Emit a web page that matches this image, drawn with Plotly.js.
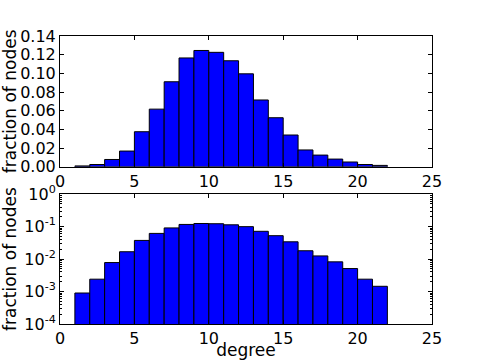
<!DOCTYPE html>
<html><head><meta charset="utf-8">
<script src="https://cdn.plot.ly/plotly-3.0.1.min.js"></script>
<style>html,body{margin:0;padding:0;background:#fff}#chart{width:480px;height:360px}</style>
</head><body><div id="chart"></div>
<script>
// Histogram bins (left edges, width 1) and fraction of nodes per bin
var binStart = [1,2,3,4,5,6,7,8,9,10,11,12,13,14,15,16,17,18,19,20,21];
var binWidth = 1;
var fraction = [0.0009,0.0024,0.0078,0.0168,0.0375,0.0617,0.091,0.1165,0.1245,0.1225,0.1135,
                0.0995,0.0715,0.0525,0.034,0.018,0.0125,0.0082,0.0051,0.0024,0.00145];
var logTickVals = [1e-4,1e-3,1e-2,1e-1,1];
var logTickText = ['10<sup>-4</sup>','10<sup>-3</sup>','10<sup>-2</sup>','10<sup>-1</sup>','10<sup>0</sup>'];
var xTitle = 'degree';
var yTitle = 'fraction of nodes';

var font = {family:'DejaVu Sans', size:16, color:'#000'};
var titleFont = {family:'DejaVu Sans', size:17, color:'#000'};
var widths = binStart.map(function(){return binWidth;});
function barTrace(xa, ya){
  return {type:'bar', x:binStart, y:fraction, width:widths, offset:0,
    xaxis:xa, yaxis:ya, marker:{color:'#0000ff', line:{color:'#000', width:1}},
    showlegend:false, hoverinfo:'skip'};
}
var axBase = {showline:true, linecolor:'#000', linewidth:1, mirror:'allticks',
  ticks:'inside', ticklen:4, tickcolor:'#000', showgrid:false, zeroline:false,
  tickfont:font, automargin:false};
var layout = {
  width:480, height:360, margin:{l:60,r:48,t:36,b:36},
  paper_bgcolor:'#fff', plot_bgcolor:'#fff', font:font, bargap:0,
  xaxis: Object.assign({}, axBase, {domain:[0,1], range:[0,25], dtick:5, anchor:'y'}),
  yaxis: Object.assign({}, axBase, {domain:[0.546,1], range:[0,0.14], dtick:0.02, tickformat:'.2f', anchor:'x',
    title:{text:yTitle, font:titleFont, standoff:3}}),
  xaxis2: Object.assign({}, axBase, {domain:[0,1], range:[0,25], dtick:5, anchor:'y2',
    title:{text:xTitle, font:titleFont, standoff:2}}),
  yaxis2: Object.assign({}, axBase, {domain:[0,0.451], type:'log', range:[-4,0], anchor:'x2',
    tickmode:'array', tickvals:logTickVals, ticktext:logTickText,
    minor:{ticks:'inside', ticklen:2, tickcolor:'#000', dtick:'D1', showgrid:false},
    title:{text:yTitle, font:titleFont, standoff:3}})
};
Plotly.newPlot('chart', [barTrace('x','y'), barTrace('x2','y2')], layout, {staticPlot:true});
</script></body></html>
